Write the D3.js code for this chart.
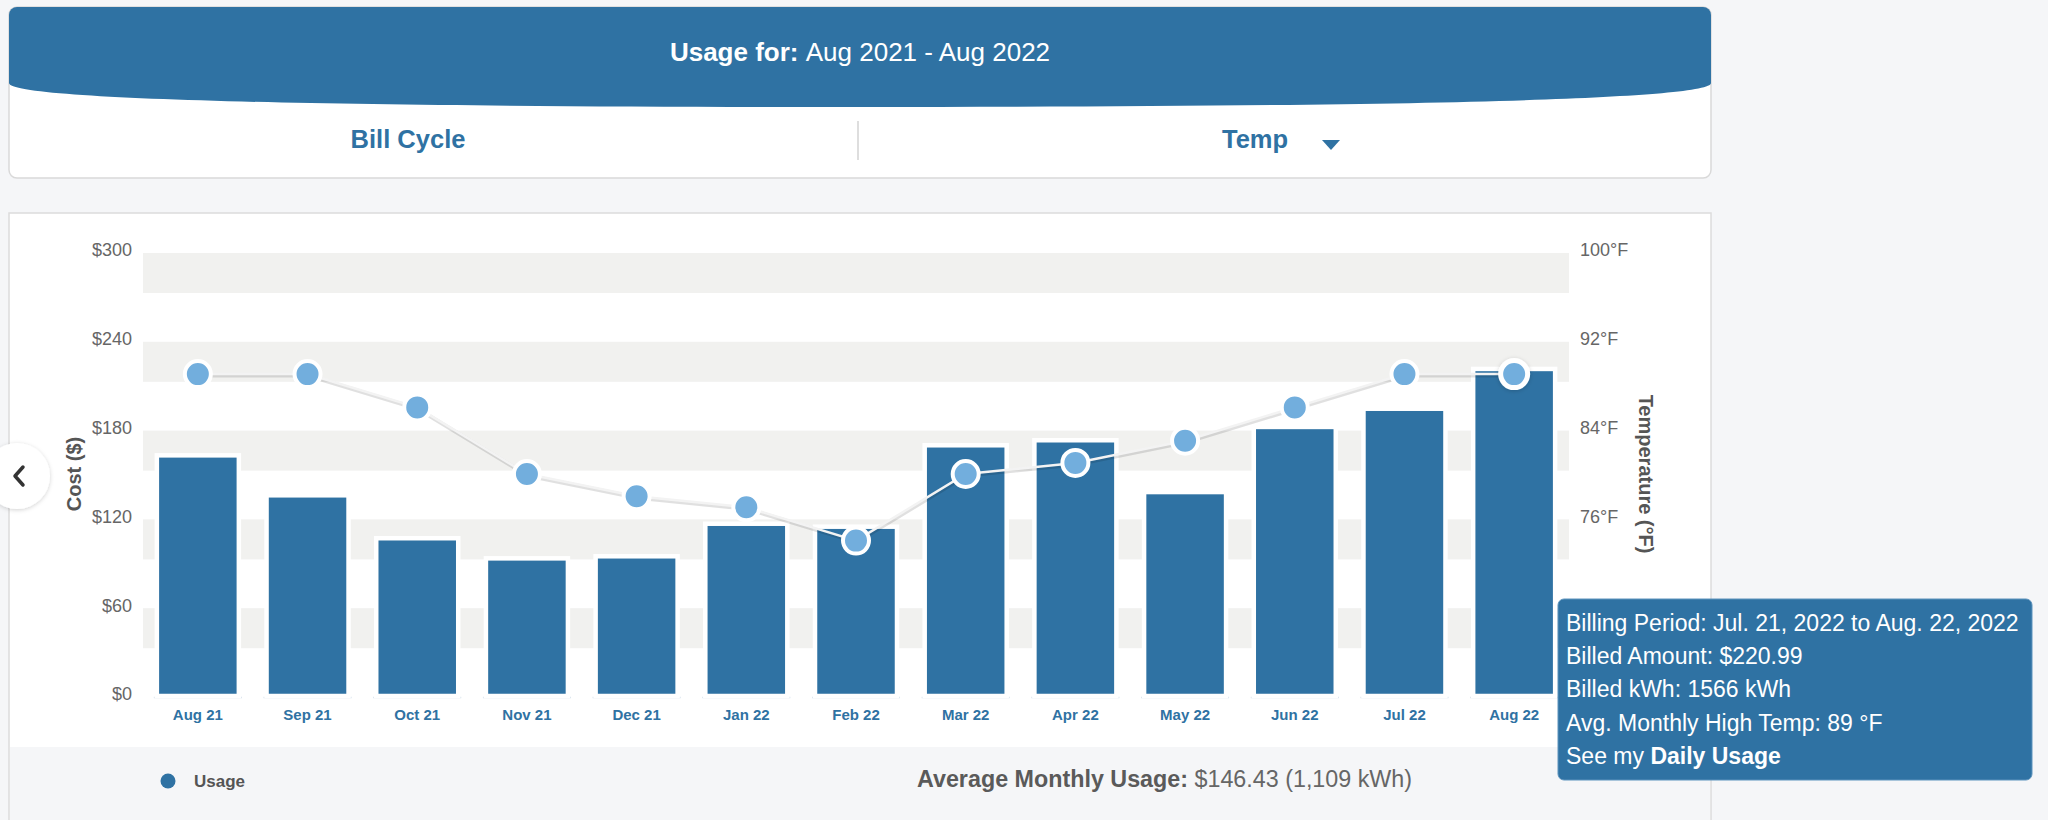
<!DOCTYPE html>
<html>
<head>
<meta charset="utf-8">
<script src="https://cdn.jsdelivr.net/npm/d3@7"></script>
<style>
  html, body { margin: 0; padding: 0; background: #f5f6f8; }
  svg { display: block; font-family: "Liberation Sans", Arial, sans-serif; }
</style>
</head>
<body>
<div id="chart"></div>
<script>
// chart data
var months = ["Aug 21", "Sep 21", "Oct 21", "Nov 21", "Dec 21", "Jan 22", "Feb 22",
              "Mar 22", "Apr 22", "May 22", "Jun 22", "Jul 22", "Aug 22"];
var costs = [162.6, 135.6, 106.6, 93.0, 94.4, 116.4, 114.4, 169.4, 172.8, 137.8, 181.8, 194.1, 220.99];
var temps = [89, 89, 86, 80, 78, 77, 74, 80, 81, 83, 86, 89, 89];
var costTicks = [0, 60, 120, 180, 240, 300];
// 60°F and 68°F sit behind the tooltip in the picture
var tempTicks = [76, 84, 92, 100];
var tooltipLines = [
    [["Billing Period: Jul. 21, 2022 to Aug. 22, 2022", false]],
    [["Billed Amount: $220.99", false]],
    [["Billed kWh: 1566 kWh", false]],
    [["Avg. Monthly High Temp: 89 °F", false]],
    [["See my ", false], ["Daily Usage", true]]
];

var BLUE = "#2f72a3";

var svg = d3.select("#chart").append("svg").attr("width", 2048).attr("height", 820);

var defs = svg.append("defs");
var sh = defs.append("filter").attr("id", "shadow").attr("x", "-50%").attr("y", "-50%")
    .attr("width", "200%").attr("height", "200%");
sh.append("feDropShadow").attr("dx", 0).attr("dy", 1).attr("stdDeviation", 2)
    .attr("flood-color", "#000").attr("flood-opacity", 0.18);

// ---- header card
svg.append("rect")
    .attr("x", 9).attr("y", 7).attr("width", 1702).attr("height", 171)
    .attr("rx", 8).attr("ry", 8)
    .style("fill", "#fff").style("stroke", "#d9d9d9").style("stroke-width", 1.5);

svg.append("path")
    .attr("d", "M9,83 L9,15 A8,8 0 0 1 17,7 L1703,7 A8,8 0 0 1 1711,15 L1711,83 " +
               "C1711,101 1350,107 860,107 C370,107 9,101 9,83 Z")
    .style("fill", BLUE);

var title = svg.append("text").attr("x", 860).attr("y", 61)
    .attr("text-anchor", "middle").style("fill", "#fff").style("font-size", "26px");
title.append("tspan").style("font-weight", "bold").text("Usage for: ");
title.append("tspan").text("Aug 2021 - Aug 2022");

svg.append("line").attr("x1", 858).attr("x2", 858).attr("y1", 121).attr("y2", 160)
    .style("stroke", "#dedede").style("stroke-width", 2);

svg.append("text").attr("x", 408).attr("y", 148).attr("text-anchor", "middle")
    .style("fill", BLUE).style("font-weight", "bold").style("font-size", "25.5px")
    .text("Bill Cycle");
svg.append("text").attr("x", 1222).attr("y", 148)
    .style("fill", BLUE).style("font-weight", "bold").style("font-size", "25.5px")
    .text("Temp");
svg.append("path").attr("d", "M1322,140 L1340,140 L1331,150 Z").style("fill", BLUE);

// ---- chart card
svg.append("rect")
    .attr("x", 9).attr("y", 213).attr("width", 1702).attr("height", 640)
    .style("fill", "#fff").style("stroke", "#dcdcdc").style("stroke-width", 1.5);
svg.append("rect")
    .attr("x", 10).attr("y", 747).attr("width", 1700).attr("height", 90)
    .style("fill", "#f5f6f8");

var x = d3.scaleBand().domain(months).range([143, 1569])
    .paddingInner(0.2525).paddingOuter(0.12625);
var y = d3.scaleLinear().domain([0, 300]).range([696, 252]);
var yT = d3.scaleLinear().domain([60, 100]).range([696, 252]);

// alternating grid bands
svg.append("g").selectAll("rect").data(costTicks.filter(function (d) { return d > 0; }))
    .enter().append("rect")
    .attr("x", 143).attr("width", 1569 - 143)
    .attr("y", function (d) { return y(d) + 1; })
    .attr("height", 40)
    .style("fill", "#f1f1ef");

// bars
var bars = svg.append("g");
bars.selectAll("line").data(months).enter().append("line")
    .attr("x1", function (d) { return x(d) - 3; })
    .attr("x2", function (d) { return x(d) + x.bandwidth() + 3; })
    .attr("y1", 697.5).attr("y2", 697.5)
    .style("stroke", "#d3dfea").style("stroke-width", 1.5);
bars.selectAll("rect").data(costs).enter().append("rect")
    .attr("x", function (d, i) { return x(months[i]); })
    .attr("width", x.bandwidth())
    .attr("y", function (d) { return y(d); })
    .attr("height", function (d) { return y(0) - y(d); })
    .style("fill", BLUE).style("stroke", "#fff").style("stroke-width", 4.5);

// axes
var axisFont = function (g) {
    g.select(".domain").remove();
    g.selectAll("text").style("font-family", "'Liberation Sans', Arial, sans-serif");
};

svg.append("g").attr("transform", "translate(143,0)")
    .call(d3.axisLeft(y).tickValues(costTicks).tickSize(0).tickPadding(11)
        .tickFormat(function (d) { return "$" + d; }))
    .call(axisFont)
    .selectAll("text").style("font-size", "18px").style("fill", "#666").attr("dy", "0.22em");

svg.append("g").attr("transform", "translate(1569,0)")
    .call(d3.axisRight(yT).tickValues(tempTicks).tickSize(0).tickPadding(11)
        .tickFormat(function (d) { return d + "°F"; }))
    .call(axisFont)
    .selectAll("text").style("font-size", "18px").style("fill", "#666").attr("dy", "0.22em");

svg.append("g").attr("transform", "translate(0,696)")
    .call(d3.axisBottom(x).tickSize(0).tickPadding(13))
    .call(axisFont)
    .selectAll("text").style("font-size", "15px").style("font-weight", "bold").style("fill", BLUE);

svg.append("text")
    .attr("transform", "translate(81,474) rotate(-90)")
    .attr("text-anchor", "middle")
    .style("font-size", "20px").style("font-weight", "bold").style("fill", "#555")
    .text("Cost ($)");
svg.append("text")
    .attr("transform", "translate(1639,474) rotate(90)")
    .attr("text-anchor", "middle")
    .style("font-size", "20px").style("font-weight", "bold").style("fill", "#555")
    .text("Temperature (°F)");

// temperature line
var line = d3.line()
    .x(function (d, i) { return x(months[i]) + x.bandwidth() / 2; })
    .y(function (d) { return yT(d); });

svg.append("path").datum(temps).attr("d", line)
    .attr("transform", "translate(0.5,1.5)")
    .style("fill", "none").style("stroke", "#000").style("stroke-opacity", 0.12)
    .style("stroke-width", 4);
svg.append("path").datum(temps).attr("d", line)
    .style("fill", "none").style("stroke", "#f3f3f3").style("stroke-width", 2.5);

svg.append("g").selectAll("circle").data(temps).enter().append("circle")
    .attr("cx", function (d, i) { return x(months[i]) + x.bandwidth() / 2; })
    .attr("cy", function (d) { return yT(d); })
    .attr("r", function (d, i) { return i === temps.length - 1 ? 13.5 : 13; })
    .style("fill", "#72aedd").style("stroke", "#fff")
    .style("stroke-width", function (d, i) { return i === temps.length - 1 ? 5 : 4; })
    .attr("filter", function (d, i) { return i === temps.length - 1 ? "url(#shadow)" : null; });

// legend
svg.append("circle").attr("cx", 168).attr("cy", 781).attr("r", 7.5).style("fill", BLUE);
svg.append("text").attr("x", 194).attr("y", 787)
    .style("font-size", "17px").style("font-weight", "bold").style("fill", "#555")
    .text("Usage");

var avg = svg.append("text").attr("x", 917).attr("y", 787)
    .style("font-size", "23.3px").style("fill", "#666");
avg.append("tspan").style("font-weight", "bold").style("fill", "#5a5a5a").text("Average Monthly Usage: ");
avg.append("tspan").text("$146.43 (1,109 kWh)");

// left nav button
svg.append("circle").attr("cx", 17).attr("cy", 476).attr("r", 33)
    .style("fill", "#fff").attr("filter", "url(#shadow)");
svg.append("path").attr("d", "M23,467 L15,476 L23,485")
    .style("fill", "none").style("stroke", "#333").style("stroke-width", 3.5)
    .style("stroke-linecap", "round").style("stroke-linejoin", "round");

// tooltip
var tip = svg.append("g");
tip.append("rect")
    .attr("x", 1558).attr("y", 599).attr("width", 474).attr("height", 181)
    .attr("rx", 6).attr("ry", 6)
    .style("fill", BLUE).style("stroke", "#5d93bd").style("stroke-width", 1);

tip.selectAll("text").data(tooltipLines).enter().append("text")
    .attr("x", 1566)
    .attr("y", function (d, i) { return 631 + i * 33.2; })
    .style("fill", "#fff").style("font-size", "23px")
    .each(function (d) {
        var t = d3.select(this);
        d.forEach(function (part) {
            t.append("tspan").style("font-weight", part[1] ? "bold" : "normal").text(part[0]);
        });
    });
</script>
</body>
</html>
